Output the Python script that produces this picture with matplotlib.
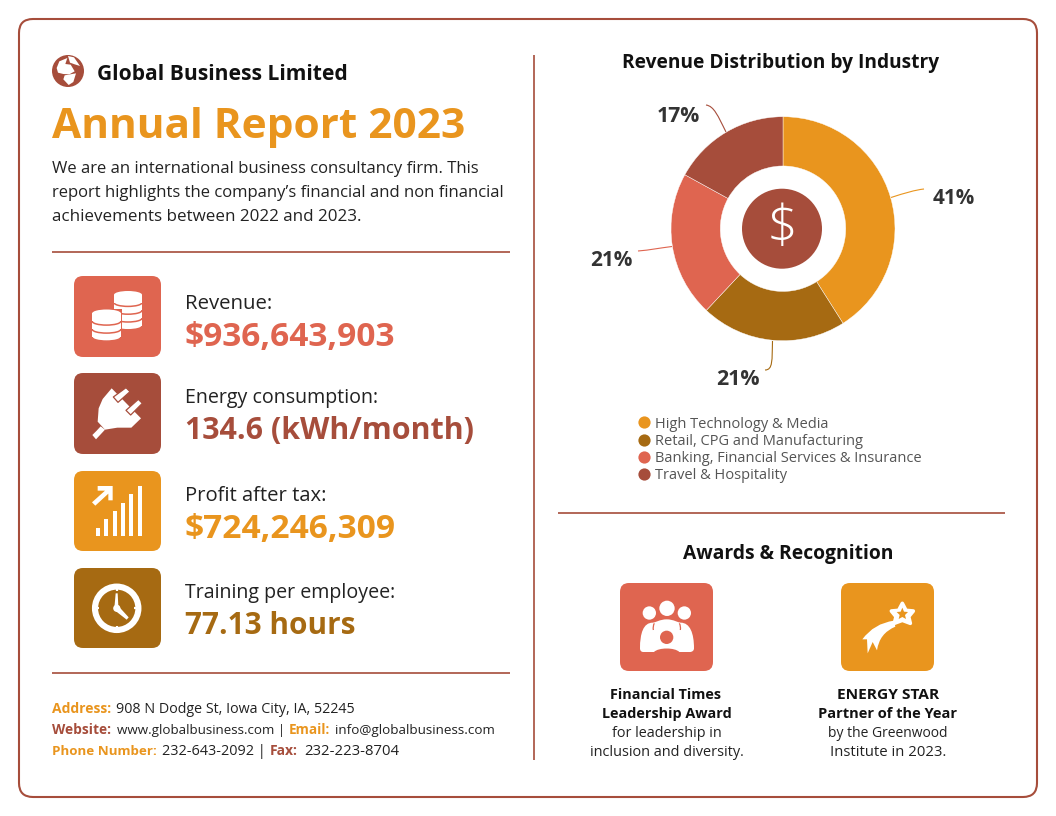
import matplotlib
matplotlib.use("Agg")
import matplotlib.pyplot as plt
from matplotlib.patches import FancyBboxPatch, Circle, Ellipse, Polygon, Rectangle, PathPatch
from matplotlib.path import Path
from matplotlib.lines import Line2D

FONT = ['Open Sans', 'DejaVu Sans']
plt.rcParams['font.family'] = FONT

ORANGE, BROWN, CORAL, MAROON = '#E9951E', '#A66A12', '#DF6550', '#A64D3B'
WHITE = 'white'

categories = ['High Technology & Media', 'Retail, CPG and Manufacturing',
              'Banking, Financial Services & Insurance', 'Travel & Hospitality']
shares = [41, 21, 21, 17]
slice_colors = [ORANGE, BROWN, CORAL, MAROON]
metric_names = ['Revenue:', 'Energy consumption:', 'Profit after tax:', 'Training per employee:']
metric_values = ['$936,643,903', '134.6 (kWh/month)', '$724,246,309', '77.13 hours']
metric_colors = [CORAL, MAROON, ORANGE, BROWN]

fig = plt.figure(figsize=(10.56, 8.16), dpi=100, facecolor=WHITE)
ax = fig.add_axes([0, 0, 1, 1], zorder=0)
ax.set_xlim(0, 1056)
ax.set_ylim(816, 0)
ax.axis('off')
rend = fig.canvas.get_renderer()


def fit(l, r, y, s, color='#222222', bold=False, **kw):
    t = ax.text(l, y, s, fontsize=10, color=color, ha='left', va='baseline',
                fontweight='bold' if bold else 'normal', **kw)
    w = t.get_window_extent(rend).width
    t.set_fontsize(10 * (r - l) / w)
    return t


def Z(ox, oy, pts):
    return [(ox + a / 3, oy + b / 3) for a, b in pts]


def poly(pts, fc=WHITE, ec='none', lw=0, z=3):
    ax.add_patch(Polygon(pts, closed=True, fc=fc, ec=ec, lw=lw, zorder=z, joinstyle='round'))


def rbox(x0, y0, x1, y1, color, rad=9):
    ax.add_patch(FancyBboxPatch((x0 + rad, y0 + rad), x1 - x0 - 2 * rad, y1 - y0 - 2 * rad,
                                boxstyle=f'round,pad={rad},rounding_size={rad}',
                                fc=color, ec='none', zorder=2))


def curve(p0, p1, p2, p3, color, lw=0.8):
    path = Path([p0, p1, p2, p3], [Path.MOVETO, Path.CURVE4, Path.CURVE4, Path.CURVE4])
    ax.add_patch(PathPatch(path, fc='none', ec=color, lw=lw, zorder=2))


# Frame and dividers
ax.add_patch(FancyBboxPatch((33, 33), 990, 750, boxstyle='round,pad=14,rounding_size=14',
                            fc=WHITE, ec=MAROON, lw=1.5, zorder=1))
for x0, x1, y in [(52, 510, 252), (52, 510, 673), (558, 1005, 513)]:
    ax.plot([x0, x1], [y, y], color=MAROON, lw=1.2, zorder=2, solid_capstyle='butt')
ax.plot([534, 534], [55, 760], color=MAROON, lw=1.2, zorder=2, solid_capstyle='butt')

# Header
ax.add_patch(Circle((68, 71), 16, fc=MAROON, ec='none', zorder=2))
poly(Z(40, 40, [(50, 84), (58, 64), (82, 54), (76, 72), (92, 74), (104, 94), (88, 103), (70, 102), (54, 98)]))
poly(Z(40, 40, [(74, 106), (108, 100), (100, 126), (86, 135), (70, 118)]))
poly(Z(40, 40, [(84, 48), (102, 52), (120, 78), (104, 73), (90, 68)]))
fit(97, 347, 79.5, 'Global Business Limited', '#111111', True)
fit(52, 467, 138.5, 'Annual Report 2023', ORANGE, True)
fit(52, 480, 173, 'We are an international business consultancy firm. This')
fit(52, 505, 197, 'report highlights the company\u2019s financial and non financial')
fit(52, 360, 221, 'achievements between 2022 and 2023.')

# Metric cards
tops = [(276, 357), (373, 454), (471, 551), (568, 648)]
name_r = [272, 378, 327, 396]
val_r = [396, 474, 396, 355]
name_y = [309, 403, 501, 598]
val_y = [345.5, 439, 537.5, 634]
for i in range(4):
    rbox(74, tops[i][0], 161, tops[i][1], metric_colors[i])
    fit(185, name_r[i], name_y[i], metric_names[i])
    fit(185, val_r[i], val_y[i], metric_values[i], metric_colors[i], True)


# Coins icon
def coins(cx, ytop, rx, ry, n, bh, outline=False):
    if outline:
        ax.add_patch(Rectangle((cx - rx - 1.5, ytop - 1), 2 * rx + 3, n * bh + ry * 2 + 2, fc=CORAL, ec='none', zorder=3))
    for i in reversed(range(n)):
        y = ytop + ry + i * bh
        ax.add_patch(Ellipse((cx, y + bh), 2 * rx, 2 * ry, fc=WHITE, ec=CORAL, lw=1.1, zorder=3))
        ax.add_patch(Rectangle((cx - rx, y), 2 * rx, bh, fc=WHITE, ec='none', zorder=3))
        ax.add_patch(Ellipse((cx, y), 2 * rx, 2 * ry, fc=WHITE, ec='none', zorder=3))


coins(128, 291, 14, 3.8, 4, 7.8)
coins(106.5, 309.5, 14.3, 3.8, 3, 8, outline=True)

# Plug icon
O2 = (60, 265)
poly(Z(*O2, [(155, 370), (243, 460), (214, 488), (172, 488), (135, 494), (113, 470), (116, 430), (128, 402)]))
poly(Z(*O2, [(110, 497), (97, 510), (108, 523), (122, 508), (135, 494), (122, 484)]))
poly(Z(*O2, [(160, 396), (198, 368), (210, 380), (174, 412)]), ec=MAROON, lw=0.9)
poly(Z(*O2, [(198, 436), (235, 403), (247, 415), (212, 450)]), ec=MAROON, lw=0.9)

# Bars and arrow icon
O3 = (60, 460)
for a, b in [(107, 204), (133, 177), (158, 153), (183, 128), (208, 103), (234, 78)]:
    poly(Z(*O3, [(a, b), (a + 12, b), (a + 12, 228), (a, 228)]))
poly(Z(*O3, [(96, 127), (135, 92), (113, 92), (113, 78), (158, 78), (158, 121), (145, 121), (145, 101), (106, 137)]))

# Clock icon
ax.add_patch(Circle((116.7, 608.3), 21.7, fc='none', ec=WHITE, lw=4.4, zorder=3))
for a, b, c, d in [(170, 386, 170, 392), (170, 498, 170, 504), (111, 445, 117, 445), (223, 445, 229, 445)]:
    pa, pb = Z(60, 460, [(a, b), (c, d)])
    ax.plot([pa[0], pb[0]], [pa[1], pb[1]], color=WHITE, lw=1.6, zorder=4, solid_capstyle='butt')
poly(Z(60, 460, [(167, 400), (173, 400), (175, 438), (206, 472), (200, 479), (168, 454), (163, 445)]))
ax.add_patch(Circle((116.8, 608.3), 3.6, fc=WHITE, ec='none', zorder=3))

# Donut chart
cx, cy, R = 783, 228.7, 112
pie_ax = fig.add_axes([(cx - R) / 1056, 1 - (cy + R) / 816, 2 * R / 1056, 2 * R / 816], zorder=1)
pie_ax.pie(shares, colors=slice_colors, startangle=90, counterclock=False, radius=1,
           wedgeprops=dict(width=0.44, edgecolor=WHITE, linewidth=0.3))
pie_ax.set_xlim(-1, 1)
pie_ax.set_ylim(-1, 1)

ax.add_patch(Circle((782, 228.7), 40, fc=MAROON, ec='none', zorder=2))
ax.text(782, 229, '$', color=WHITE, fontsize=39, ha='center', va='center',
        family=['Open Sans', 'DejaVu Sans'], fontweight='light', zorder=3)

fit(622, 940, 68, 'Revenue Distribution by Industry', '#111111', True)
fit(933, 975, 204, f'{shares[0]}%', '#333333', True)
fit(716, 759, 385, f'{shares[1]}%', '#333333', True)
fit(590, 632, 266.5, f'{shares[2]}%', '#333333', True)
fit(657, 700, 122, f'{shares[3]}%', '#333333', True)
curve((891, 197.5), (905, 193), (915, 190), (924, 189), ORANGE)
curve((772.5, 341), (772, 360), (773, 370), (765, 370), BROWN)
curve((672, 246.5), (660, 248), (650, 250), (638, 251), CORAL)
curve((726, 132), (718, 116), (714, 106), (706, 105), MAROON)

handles = [Line2D([], [], linestyle='none', marker='o', markersize=8.8, markerfacecolor=c,
                  markeredgecolor='none') for c in slice_colors]
ax.legend(handles, categories, loc='upper left', bbox_to_anchor=(636.7, 416.5), bbox_transform=ax.transData,
          frameon=False, borderpad=0, borderaxespad=0, handlelength=1.0, handletextpad=0.25,
          labelspacing=0.154, fontsize=10.55, labelcolor='#555555')

# Awards
fit(683, 894, 559, 'Awards & Recognition', '#111111', True)
rbox(620, 583, 713, 671, CORAL)
rbox(841, 583, 934, 671, ORANGE)

O5 = (600, 570)
for a, b, r in [(148, 129, 20), (201, 115, 23), (253, 129, 20)]:
    p = Z(*O5, [(a, b)])[0]
    ax.add_patch(Circle(p, r / 3, fc=WHITE, ec='none', zorder=3))
body = Z(*O5, [(120, 235), (120, 190), (130, 158), (158, 158), (165, 158), (180, 148), (200, 148),
               (220, 148), (235, 158), (242, 158), (270, 158), (282, 190), (282, 235),
               (282, 242), (276, 246), (270, 246), (255, 246), (245, 246), (238, 246),
               (225, 232), (175, 232), (162, 246), (155, 246), (140, 246), (130, 246),
               (124, 246), (120, 242), (120, 235)])
codes = [Path.MOVETO] + [Path.CURVE4] * 27
ax.add_patch(PathPatch(Path(body, codes), fc=WHITE, ec='none', zorder=3))
ax.add_patch(Circle(Z(*O5, [(200, 202)])[0], 20 / 3, fc=CORAL, ec='none', zorder=4))
for seg in ([(163, 160), (158, 168), (160, 180)], [(238, 160), (243, 168), (241, 180)]):
    pts = Z(*O5, seg)
    ax.add_patch(PathPatch(Path(pts, [Path.MOVETO, Path.CURVE3, Path.CURVE3]), fc='none', ec=CORAL, lw=0.9, zorder=4))

star_o = [(907, 100), (918, 121), (940, 123), (926, 140), (931, 160), (907, 151), (883, 160), (888, 140), (874, 123), (896, 121)]
poly(Z(*O5, star_o), ec=WHITE, lw=2.6)
star_i = [(907, 113), (912, 125), (924, 126), (915, 135), (918, 147), (907, 141), (896, 147), (899, 135), (890, 126), (902, 125)]
poly(Z(*O5, star_i), fc=ORANGE, z=4)
tail = Z(*O5, [(882, 152), (822, 160), (787, 208), (801, 208), (803, 250), (818, 216), (831, 241), (838, 190), (886, 170), (882, 152)])
ax.add_patch(PathPatch(Path(tail, [Path.MOVETO, Path.CURVE3, Path.CURVE3, Path.LINETO, Path.LINETO, Path.LINETO,
                                   Path.LINETO, Path.CURVE3, Path.CURVE3, Path.CLOSEPOLY]),
                       fc=WHITE, ec='none', zorder=3))

award_lines = [
    [(610, 721, 'Financial Times', True), (602, 732, 'Leadership Award', True),
     (612, 722, 'for leadership in', False), (590, 745, 'inclusion and diversity.', False)],
    [(837, 939, 'ENERGY STAR', True), (818, 958, 'Partner of the Year', True),
     (828, 948, 'by the Greenwood', False), (830, 946, 'Institute in 2023.', False)],
]
for block in award_lines:
    for (l, r, s, b), y in zip(block, [699, 718, 737, 756]):
        fit(l, r, y, s, '#111111' if b else '#222222', b)

# Footer
for l, r, y, s, c, b in [
    (52, 111, 713, 'Address:', ORANGE, True),
    (116, 354, 713, '908 N Dodge St, Iowa City, IA, 52245', '#222222', False),
    (52, 111, 734, 'Website:', MAROON, True),
    (117, 285, 734, 'www.globalbusiness.com |', '#222222', False),
    (289, 330, 734, 'Email:', ORANGE, True),
    (335, 495, 734, 'info@globalbusiness.com', '#222222', False),
    (52, 157, 755, 'Phone Number:', ORANGE, True),
    (162, 265, 755, '232-643-2092 |', '#222222', False),
    (270, 298, 755, 'Fax:', MAROON, True),
    (304, 398, 755, '232-223-8704', '#222222', False),
]:
    fit(l, r, y, s, c, b)

fig.savefig('out.png', dpi=100, facecolor=WHITE)
